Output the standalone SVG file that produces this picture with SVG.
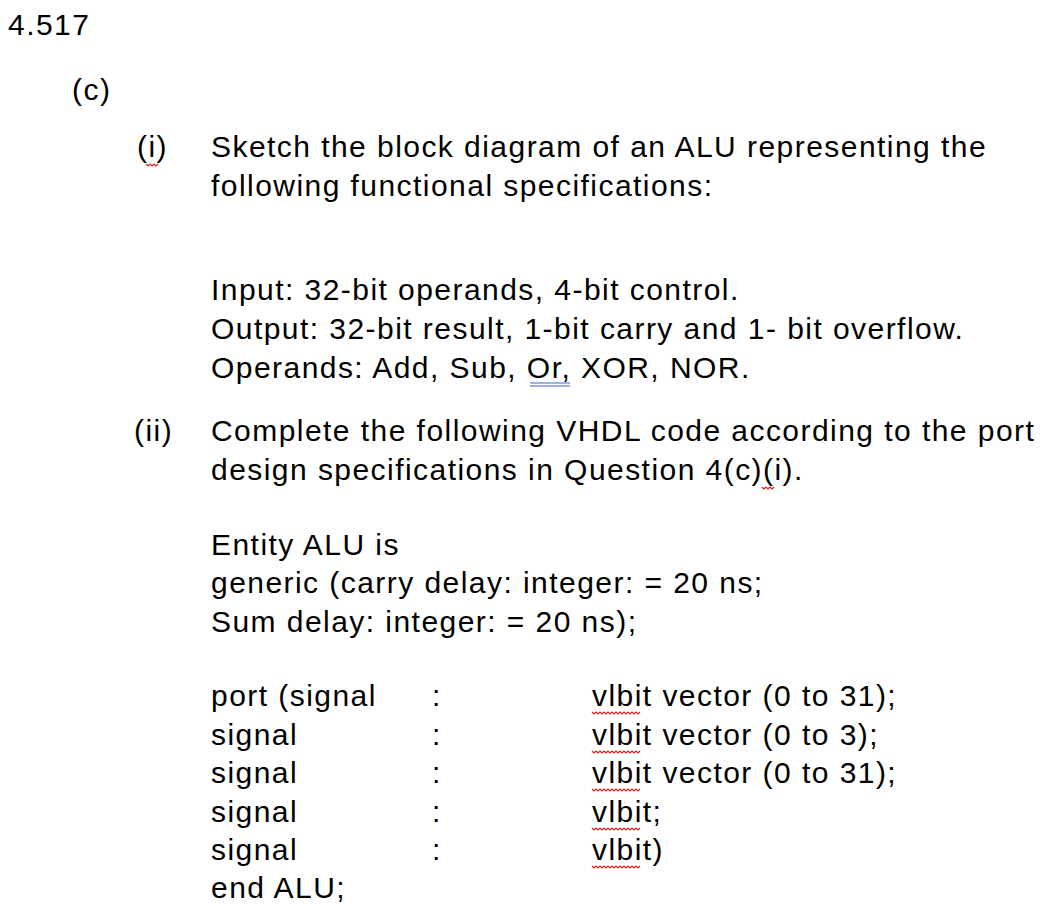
<svg xmlns="http://www.w3.org/2000/svg" width="1053" height="913" viewBox="0 0 1053 913">
<style>
text{font-family:"Liberation Sans",Arial,sans-serif;font-size:30px;letter-spacing:1.45px;fill:#000}
.sq{fill:none;stroke:#e02020;stroke-width:1.2}
.bl{fill:none;stroke:#4060d0;stroke-width:1.2}
</style>
<rect width="1053" height="913" fill="#fff"/>
<text x="8" y="35">4.517</text>
<text x="72" y="100">(c)</text>
<text x="137" y="157">(i)</text>
<text x="211" y="157">Sketch the block diagram of an ALU representing the</text>
<text x="211" y="196">following functional specifications:</text>
<text x="211" y="300">Input: 32-bit operands, 4-bit control.</text>
<text x="211" y="339">Output: 32-bit result, 1-bit carry and 1- bit overflow.</text>
<text x="211" y="378">Operands: Add, Sub, Or, XOR, NOR.</text>
<text x="134" y="441">(ii)</text>
<text x="211" y="441">Complete the following VHDL code according to the port</text>
<text x="211" y="480">design specifications in Question 4(c)(i).</text>
<text x="211" y="555">Entity ALU is</text>
<text x="211" y="593">generic (carry delay: integer: = 20 ns;</text>
<text x="211" y="632">Sum delay: integer: = 20 ns);</text>
<text x="211" y="706">port (signal</text>
<text x="211" y="745">signal</text>
<text x="211" y="783">signal</text>
<text x="211" y="822">signal</text>
<text x="211" y="860">signal</text>
<text x="211" y="898">end ALU;</text>
<text x="432" y="706">:</text>
<text x="432" y="745">:</text>
<text x="432" y="783">:</text>
<text x="432" y="822">:</text>
<text x="432" y="860">:</text>
<text x="592" y="706">vlbit vector (0 to 31);</text>
<text x="592" y="745">vlbit vector (0 to 3);</text>
<text x="592" y="783">vlbit vector (0 to 31);</text>
<text x="592" y="822">vlbit;</text>
<text x="592" y="860">vlbit)</text>
<path class="sq" d="M146 164l2 2l2-2l2 2l2-2l2 2l2-2"/>
<path class="sq" d="M762 487l2 2l2-2l2 2l2-2l2 2l2-2"/>
<path class="bl" d="M530 383h40M530 386h40"/>
<path class="sq" d="M592 712l2 2l2-2l2 2l2-2l2 2l2-2l2 2l2-2l2 2l2-2l2 2l2-2l2 2l2-2l2 2l2-2l2 2l2-2l2 2l2-2l2 2l2-2l2 2l2-2"/>
<path class="sq" d="M592 751l2 2l2-2l2 2l2-2l2 2l2-2l2 2l2-2l2 2l2-2l2 2l2-2l2 2l2-2l2 2l2-2l2 2l2-2l2 2l2-2l2 2l2-2l2 2l2-2"/>
<path class="sq" d="M592 789l2 2l2-2l2 2l2-2l2 2l2-2l2 2l2-2l2 2l2-2l2 2l2-2l2 2l2-2l2 2l2-2l2 2l2-2l2 2l2-2l2 2l2-2l2 2l2-2"/>
<path class="sq" d="M592 828l2 2l2-2l2 2l2-2l2 2l2-2l2 2l2-2l2 2l2-2l2 2l2-2l2 2l2-2l2 2l2-2l2 2l2-2l2 2l2-2l2 2l2-2l2 2l2-2"/>
<path class="sq" d="M592 866l2 2l2-2l2 2l2-2l2 2l2-2l2 2l2-2l2 2l2-2l2 2l2-2l2 2l2-2l2 2l2-2l2 2l2-2l2 2l2-2l2 2l2-2l2 2l2-2"/>
</svg>
